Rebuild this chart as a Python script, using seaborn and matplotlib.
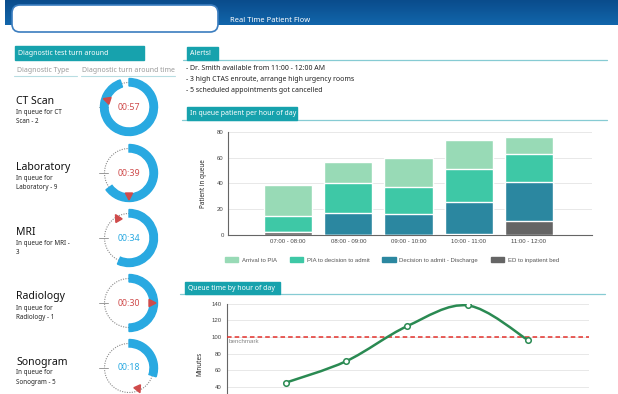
import numpy as np
import pandas as pd
import matplotlib
matplotlib.use("Agg")
import matplotlib.pyplot as plt
from matplotlib.patches import Wedge, Arc, Polygon, Rectangle, FancyBboxPatch, Patch, PathPatch
from matplotlib.path import Path
import seaborn as sns

# --- data ---
tests = ["CT Scan", "Laboratory", "MRI", "Radiology", "Sonogram"]
queue_lines = [["In queue for CT", "Scan - 2"], ["In queue for", "Laboratory - 9"],
               ["In queue for MRI -", "3"], ["In queue for", "Radiology - 1"],
               ["In queue for", "Sonogram - 5"]]
turnaround_min = [57, 39, 34, 30, 18]
target_min = [48, 30, 55, 15, 26]

alerts = ["- Dr. Smith available from 11:00 - 12:00 AM",
          "- 3 high CTAS enroute, arrange high urgency rooms",
          "- 5 scheduled appointments got cancelled"]

hours = ["07:00 - 08:00", "08:00 - 09:00", "09:00 - 10:00", "10:00 - 11:00", "11:00 - 12:00"]
arrival_pia = [24, 17, 23, 23, 13]
pia_decision = [13, 23, 21, 25, 22]
decision_discharge = [0, 17, 16, 25, 30]
ed_bed = [2, 0, 0, 1, 11]

queue_minutes = [45, 71, 113, 138, 96]
benchmark = 100

stage_names = ["Arrival to PIA", "PIA to decision to admit", "Decision to admit - Discharge", "ED to inpatient bed"]
stage_colors = ["#98dab6", "#3ec8a6", "#2b87a0", "#656565"]

TEAL = "#17a2ad"
BLUE = "#29a9e1"
RED = "#cf4b4b"
GREEN = "#2a8a52"

sns.set_style("white")
plt.rcParams["font.family"] = ["Noto Sans", "DejaVu Sans"]

W, H = 618, 394
fig = plt.figure(figsize=(W / 100, H / 100), dpi=100)

# overlay in pixel coordinates
bg = fig.add_axes([0, 0, 1, 1])
bg.set_xlim(0, W)
bg.set_ylim(H, 0)
bg.axis("off")

# header band
grad = np.linspace(0, 1, 50).reshape(-1, 1)
cmap = matplotlib.colors.LinearSegmentedColormap.from_list("hdr", ["#0a4c8c", "#1266ab"])
bg.imshow(grad, cmap=cmap, extent=(5, W, 25, 0), aspect="auto", zorder=1)
bg.add_patch(FancyBboxPatch((12, 5), 206, 27, boxstyle="round,pad=0,rounding_size=8",
                            fc="white", ec="#3b7dbf", lw=1.2, zorder=2))
bg.text(230, 20, "Real Time Patient Flow", color="white", fontsize=5.4, va="center", zorder=3)
bg.set_xlim(0, W)
bg.set_ylim(H, 0)


def tab(x0, x1, y0, y1, label, line_to=None):
    bg.add_patch(Rectangle((x0, y0), x1 - x0, y1 - y0, color=TEAL, zorder=2))
    bg.text(x0 + 3, (y0 + y1) / 2, label, color="white", fontsize=5, va="center", zorder=3)
    if line_to is not None:
        bg.plot([line_to[0], line_to[1]], [y1, y1], color="#86cbd3", lw=0.9, zorder=1)


tab(15, 144, 46, 60, "Diagnostic test turn around")
tab(187, 218, 47, 60, "Alerts!", (183, 607))
tab(187, 297, 107, 120, "In queue patient per hour of day", (182, 607))
tab(185, 280, 282, 294, "Queue time by hour of day", (180, 605))

# column headers
bg.text(17, 70, "Diagnostic Type", color="#9a9a9a", fontsize=5, va="center")
bg.text(82, 70, "Diagnostic turn around time", color="#9a9a9a", fontsize=5, va="center")
bg.plot([14, 77], [75.5, 75.5], color="#b8dde2", lw=0.8)
bg.plot([81, 175], [75.5, 75.5], color="#b8dde2", lw=0.8)

# alerts
for i, a in enumerate(alerts):
    bg.text(186, 68 + 11 * i, a, color="#222222", fontsize=5, va="center")

# gauges
centers_y = [107, 173, 238, 303, 368]
label_y = [101, 167, 232, 297, 362]
cx = 129
for name, lines, val, tgt, cy, ly in zip(tests, queue_lines, turnaround_min, target_min, centers_y, label_y):
    bg.text(16, ly, name, fontsize=7.5, color="#111111", va="center")
    for k, ln in enumerate(lines):
        bg.text(16, ly + 11 + 9.5 * k, ln, fontsize=4.5, color="#222222", va="center")
    end = -90 + val / 60 * 360
    bg.add_patch(Arc((cx, cy), 49, 49, theta1=end, theta2=270, color="#8a8a8a",
                     lw=0.8, ls=(0, (1, 1.2)), zorder=2))
    bg.plot([cx - 30, cx - 21], [cy, cy], color="#9a9a9a", lw=0.7, zorder=2)
    bg.add_patch(Wedge((cx, cy), 28.5, -90, end, width=7.5, color=BLUE, zorder=3))
    a = np.deg2rad(-90 + tgt / 60 * 360)
    u = np.array([np.cos(a), np.sin(a)])
    n = np.array([-u[1], u[0]])
    c0 = np.array([cx, cy])
    tri = [c0 + u * 27, c0 + u * 20 + n * 3.6, c0 + u * 20 - n * 3.6]
    bg.add_patch(Polygon(tri, closed=True, color=RED, zorder=4))
    bg.text(cx, cy, "00:%02d" % val, fontsize=6.4, fontweight="bold",
            color=RED if val > tgt else BLUE, ha="center", va="center", zorder=5)

# --- stacked bar chart ---
df = pd.DataFrame({"hour": hours, "arrival": arrival_pia, "pia": pia_decision,
                   "decision": decision_discharge, "ed": ed_bed})
df["lvl_ed"] = df["ed"]
df["lvl_dec"] = df["lvl_ed"] + df["decision"]
df["lvl_pia"] = df["lvl_dec"] + df["pia"]
df["lvl_all"] = df["lvl_pia"] + df["arrival"]

ax = fig.add_axes([228 / W, 1 - 235 / H, (592 - 228) / W, 103 / H])
ax.set_facecolor("none")
for col, c in zip(["lvl_all", "lvl_pia", "lvl_dec", "lvl_ed"], stage_colors):
    sns.barplot(data=df, x="hour", y=col, color=c, saturation=1, width=0.8, ax=ax, zorder=3)
ax.set_xlim(-1, 5.05)
ax.set_ylim(0, 80)
ax.set_yticks([0, 20, 40, 60, 80])
ax.grid(axis="y", color="#e8e8e8", lw=0.7, zorder=0)
ax.set_axisbelow(True)
ax.set_xlabel("")
ax.set_ylabel("Patient in queue", fontsize=4.5, color="#222222", labelpad=7)
ax.tick_params(length=0, labelsize=4.3, labelcolor="#444444", pad=3)
for t in ax.get_xticklabels() + ax.get_yticklabels():
    t.set_family("Liberation Sans")
for s in ["top", "right"]:
    ax.spines[s].set_visible(False)
ax.spines["left"].set_color("#666666")
ax.spines["bottom"].set_color("#666666")
ax.spines["left"].set_linewidth(0.8)
ax.spines["bottom"].set_linewidth(0.8)

handles = [Patch(color=c, label=l) for c, l in zip(stage_colors, stage_names)]
fig.legend(handles=handles, loc="center", bbox_to_anchor=(392 / W, 1 - 260 / H), ncol=4,
           frameon=False, prop={"family": "Liberation Sans", "size": 4.3},
           labelcolor="#555555", handlelength=2.2, handleheight=0.9, handletextpad=0.6,
           columnspacing=2.2)

# --- queue time line chart ---
ax2 = fig.add_axes([227 / W, (H - 420) / H, (589 - 227) / W, 116.2 / H])
ax2.set_facecolor("none")
xs = np.arange(len(queue_minutes), dtype=float)
ys = np.array(queue_minutes, dtype=float)
pts = np.column_stack([xs, ys])
verts, codes = [pts[0]], [Path.MOVETO]
for i in range(len(pts) - 1):
    p0 = pts[i - 1] if i > 0 else pts[i]
    p1, p2 = pts[i], pts[i + 1]
    p3 = pts[i + 2] if i + 2 < len(pts) else pts[i + 1]
    verts += [p1 + (p2 - p0) / 6, p2 - (p3 - p1) / 6, p2]
    codes += [Path.CURVE4] * 3
ax2.add_patch(PathPatch(Path(verts, codes), fc="none", ec=GREEN, lw=1.8, zorder=4))
sns.scatterplot(x=xs, y=ys, s=16, color="white", edgecolor=GREEN, linewidth=1.1, zorder=5, ax=ax2)
ax2.axhline(benchmark, color="#e3312c", lw=1.1, ls=(0, (3, 2)), zorder=3)
ax2.text(0.005, benchmark - 3, "benchmark", transform=ax2.get_yaxis_transform(),
         fontsize=4.5, color="#888888", va="top", family="Liberation Sans")
ax2.set_xlim(-0.97, 5)
ax2.set_ylim(0, 140)
ax2.set_yticks([40, 60, 80, 100, 120, 140])
ax2.set_xticks([])
ax2.grid(axis="y", color="#e8e8e8", lw=0.7, zorder=0)
ax2.set_axisbelow(True)
ax2.set_ylabel("Minutes", fontsize=4.5, color="#222222", labelpad=6, y=0.48)
ax2.tick_params(length=0, labelsize=4.3, labelcolor="#444444", pad=4)
for t in ax2.get_yticklabels():
    t.set_family("Liberation Sans")
for s in ["top", "right", "bottom"]:
    ax2.spines[s].set_visible(False)
ax2.spines["left"].set_color("#666666")
ax2.spines["left"].set_linewidth(0.8)

fig.savefig("out.png", dpi=100)
